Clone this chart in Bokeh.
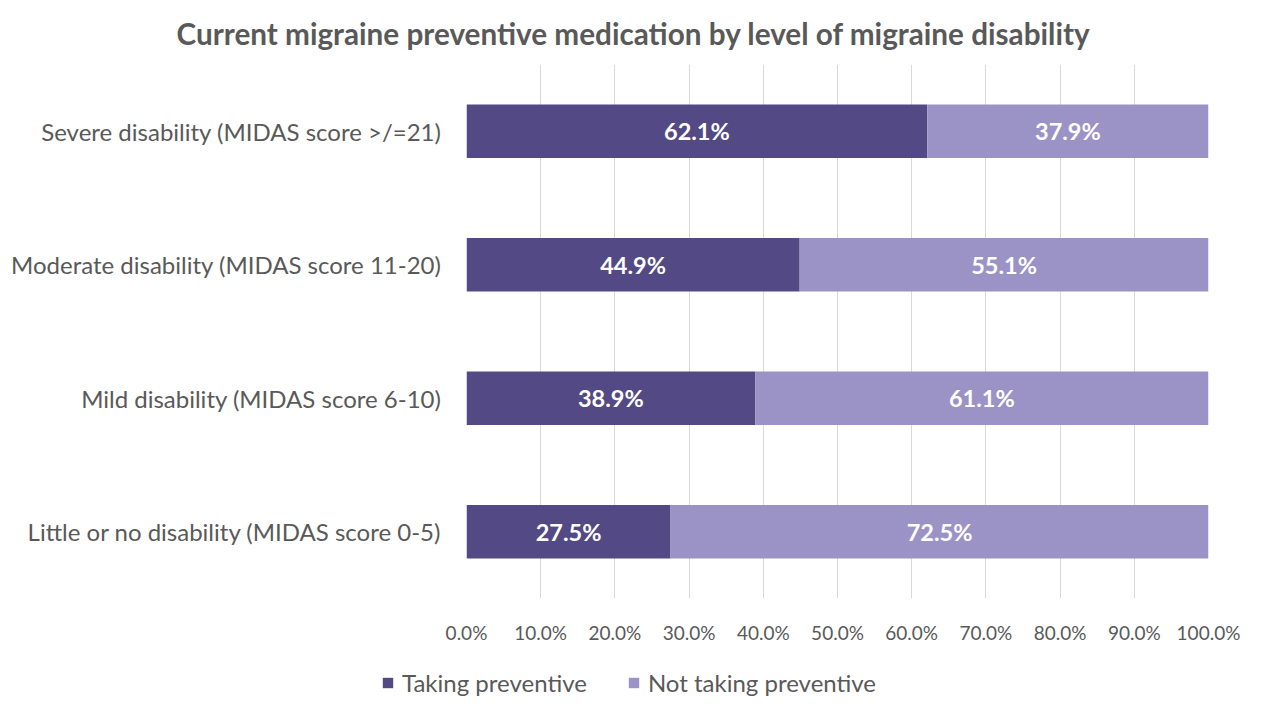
from bokeh.plotting import figure
from bokeh.layouts import column
from bokeh.models import (FactorRange, Range1d, FixedTicker, PrintfTickFormatter,
                          Legend, LegendItem, ColumnDataSource)
from bokeh.core.properties import value
from bokeh.embed import file_html
from bokeh.resources import INLINE

categories = ["Little or no disability (MIDAS score 0-5)",
              "Mild disability (MIDAS score 6-10)",
              "Moderate disability (MIDAS score 11-20)",
              "Severe disability (MIDAS score >/=21)"]
taking = [27.5, 38.9, 44.9, 62.1]
not_taking = [72.5, 61.1, 55.1, 37.9]
series_names = ["Taking preventive", "Not taking preventive"]
x_ticks = [0, 10, 20, 30, 40, 50, 60, 70, 80, 90, 100]

DARK = "#534a85"
LIGHT = "#9b93c5"
GREY = "#595959"
FONT = "Lato"

p = figure(width=1246, height=646, y_range=FactorRange(*categories),
           x_range=Range1d(0, 100), output_backend="svg", toolbar_location=None,
           min_border_left=466, min_border_right=38, min_border_top=63,
           min_border_bottom=43)
p.outline_line_color = None
p.background_fill_color = "white"

src = ColumnDataSource(dict(cat=categories, taking=taking, not_taking=not_taking,
                            t_lab=[f"{v:.1f}%" for v in taking],
                            n_lab=[f"{v:.1f}%" for v in not_taking],
                            t_mid=[v / 2 for v in taking],
                            n_mid=[t + n / 2 for t, n in zip(taking, not_taking)],
                            total=[t + n for t, n in zip(taking, not_taking)]))

p.hbar(y="cat", left=0, right="taking", height=0.4, source=src,
       fill_color=DARK, line_color=None)
p.hbar(y="cat", left="taking", right="total", height=0.4, source=src,
       fill_color=LIGHT, line_color=None)

for xcol, lcol in (("t_mid", "t_lab"), ("n_mid", "n_lab")):
    p.text(x=xcol, y="cat", text=lcol, source=src, text_color="white",
           text_font=value(FONT), text_font_style="bold", text_font_size="23.5px",
           text_align="center", text_baseline="middle")

p.title.text = "Current migraine preventive medication by level of migraine disability"
p.title.align = "left"
p.title.offset = -290
p.title.text_font = FONT
p.title.text_font_size = "29.7px"
p.title.text_font_style = "bold"
p.title.text_color = GREY
p.title.standoff = 27

p.xaxis.ticker = FixedTicker(ticks=x_ticks)
p.xaxis.formatter = PrintfTickFormatter(format="%.1f%%")
p.xaxis.axis_line_color = None
p.xaxis.major_tick_line_color = None
p.xaxis.minor_tick_line_color = None
p.xaxis.major_tick_out = 0
p.xaxis.major_tick_in = 0
p.xaxis.major_label_standoff = 22
p.xaxis.major_label_text_font = FONT
p.xaxis.major_label_text_font_size = "19px"
p.xaxis.major_label_text_color = GREY

p.yaxis.axis_line_color = None
p.yaxis.major_tick_line_color = None
p.yaxis.minor_tick_line_color = None
p.yaxis.major_tick_out = 0
p.yaxis.major_tick_in = 0
p.yaxis.major_label_standoff = 25
p.yaxis.major_label_text_font = FONT
p.yaxis.major_label_text_font_size = "24px"
p.yaxis.major_label_text_color = GREY

p.xgrid.grid_line_color = "#d9d9d9"
p.ygrid.grid_line_color = None

# legend strip below the chart (swatch renderers hold no visible data)
lg = figure(width=1246, height=60, x_range=Range1d(0, 1), y_range=Range1d(0, 1),
            output_backend="svg", toolbar_location=None, title=None,
            x_axis_type=None, y_axis_type=None, min_border=0)
lg.outline_line_color = None
lg.xgrid.grid_line_color = None
lg.ygrid.grid_line_color = None
lg.background_fill_color = "white"
d1 = lg.hbar(y=[-5], left=[5], right=[6], height=0.4, fill_color=DARK, line_color=None)
d2 = lg.hbar(y=[-5], left=[5], right=[6], height=0.4, fill_color=LIGHT, line_color=None)

legend = Legend(items=[LegendItem(label=series_names[0], renderers=[d1]),
                       LegendItem(label=series_names[1], renderers=[d2])],
                orientation="horizontal", location=(381, 9),
                glyph_width=13, glyph_height=13, label_text_font=FONT,
                label_text_font_size="24px", label_text_color=GREY,
                label_standoff=8, spacing=40, padding=2, margin=0,
                border_line_color=None, background_fill_alpha=0)
lg.add_layout(legend, "center")

layout = column(p, column(lg, spacing=0), spacing=0)
open("out.html", "w").write(file_html(layout, INLINE))
